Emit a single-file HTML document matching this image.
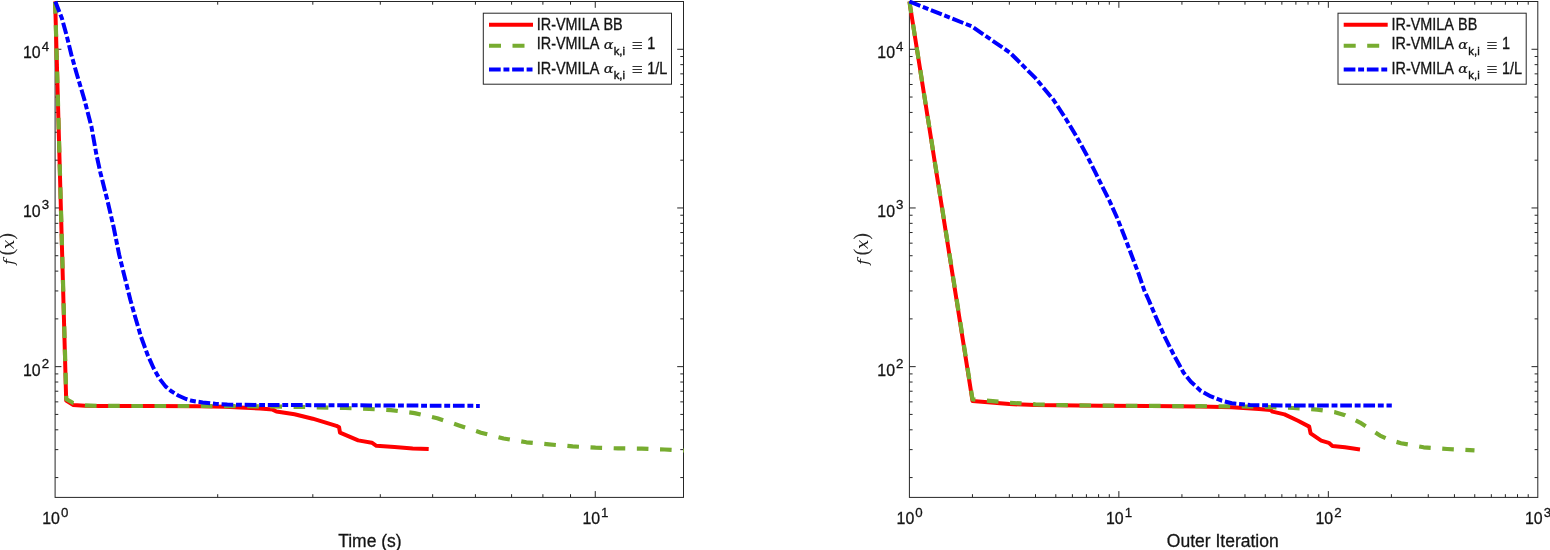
<!DOCTYPE html>
<html lang="en">
<head>
<meta charset="utf-8">
<title>IR-VMILA convergence plots</title>
<style>
html,body{margin:0;padding:0;background:#fff;}
body{width:1550px;height:550px;overflow:hidden;}
svg{display:block;}
text{font-family:"Liberation Sans",sans-serif;fill:#141414;stroke:#141414;stroke-width:0.28px;}
.tk{font-size:15.9px;}
.sup{font-size:13.3px;}
.lb{font-size:17.5px;}
.yl{font-family:"Liberation Serif",serif;font-style:italic;font-size:20px;stroke:none;}
.pr{font-style:normal;font-size:20.4px;fill:#2a2a2a;}
.fx{font-family:"DejaVu Serif",serif;font-size:16.5px;}
.lg{font-size:14.45px;}
.al{font-family:"DejaVu Serif",serif;font-style:italic;font-size:13.1px;stroke-width:0.2px;}
.sub{font-size:11.4px;stroke-width:0.4px;}
.eq{font-family:"Liberation Serif",serif;font-size:20.3px;stroke:none;fill:#333;}
</style>
</head>
<body>
<svg width="1550" height="550" viewBox="0 0 1550 550">
<rect width="1550" height="550" fill="#fff"/>
<clipPath id="cl"><rect x="52.90" y="-0.70" width="631.10" height="498.10"/></clipPath>
<rect x="55.10" y="1.50" width="628.40" height="495.90" fill="#fff" stroke="#262626" stroke-width="1"/>
<path d="M55.10 477.57h3.20M683.50 477.57h-3.20M55.10 449.63h3.20M683.50 449.63h-3.20M55.10 429.80h3.20M683.50 429.80h-3.20M55.10 414.42h3.20M683.50 414.42h-3.20M55.10 401.86h3.20M683.50 401.86h-3.20M55.10 391.23h3.20M683.50 391.23h-3.20M55.10 382.03h3.20M683.50 382.03h-3.20M55.10 373.91h3.20M683.50 373.91h-3.20M55.10 366.65h6.30M683.50 366.65h-6.30M55.10 318.88h3.20M683.50 318.88h-3.20M55.10 290.94h3.20M683.50 290.94h-3.20M55.10 271.11h3.20M683.50 271.11h-3.20M55.10 255.73h3.20M683.50 255.73h-3.20M55.10 243.17h3.20M683.50 243.17h-3.20M55.10 232.54h3.20M683.50 232.54h-3.20M55.10 223.34h3.20M683.50 223.34h-3.20M55.10 215.22h3.20M683.50 215.22h-3.20M55.10 207.96h6.30M683.50 207.96h-6.30M55.10 160.19h3.20M683.50 160.19h-3.20M55.10 132.25h3.20M683.50 132.25h-3.20M55.10 112.42h3.20M683.50 112.42h-3.20M55.10 97.04h3.20M683.50 97.04h-3.20M55.10 84.48h3.20M683.50 84.48h-3.20M55.10 73.85h3.20M683.50 73.85h-3.20M55.10 64.65h3.20M683.50 64.65h-3.20M55.10 56.53h3.20M683.50 56.53h-3.20M55.10 49.27h6.30M683.50 49.27h-6.30M55.10 1.50h3.20M683.50 1.50h-3.20M217.70 497.40v-3.20M217.70 1.50v3.20M312.82 497.40v-3.20M312.82 1.50v3.20M380.30 497.40v-3.20M380.30 1.50v3.20M432.65 497.40v-3.20M432.65 1.50v3.20M475.42 497.40v-3.20M475.42 1.50v3.20M511.58 497.40v-3.20M511.58 1.50v3.20M542.90 497.40v-3.20M542.90 1.50v3.20M570.53 497.40v-3.20M570.53 1.50v3.20M595.25 497.40v-6.30M595.25 1.50v6.30" stroke="#262626" stroke-width="1" fill="none"/>
<text class="tk" text-anchor="end" x="49.10" y="375.65">10<tspan class="sup" dx="1.0" dy="-7.5">2</tspan></text>
<text class="tk" text-anchor="end" x="49.10" y="216.96">10<tspan class="sup" dx="1.0" dy="-7.5">3</tspan></text>
<text class="tk" text-anchor="end" x="49.10" y="58.27">10<tspan class="sup" dx="1.0" dy="-7.5">4</tspan></text>
<text class="tk" text-anchor="middle" x="55.30" y="524.00">10<tspan class="sup" dx="1.0" dy="-7.5">0</tspan></text>
<text class="tk" text-anchor="middle" x="595.45" y="524.00">10<tspan class="sup" dx="1.0" dy="-7.5">1</tspan></text>
<text class="lb" text-anchor="middle" x="369.90" y="546.6">Time (s)</text>
<text class="yl" transform="translate(13.60 266.00) rotate(-90)"><tspan class="fx" style="font-size:15.5px" x="1.2">f</tspan><tspan class="pr" x="10.4" dy="-0.3">(</tspan><tspan class="fx" x="17.0" dy="0.3">x</tspan><tspan class="pr" x="26.3" dy="-0.3">)</tspan></text>
<g clip-path="url(#cl)" fill="none" stroke-width="4.00" stroke-linejoin="round">
<polyline points="55.15,1.50 66.20,400.50 73.00,404.90 85.00,405.70 100.00,405.95 150.00,406.00 200.00,406.20 225.00,406.80 240.00,407.50 260.00,408.50 272.70,409.60 276.40,411.50 294.50,414.20 312.70,418.70 336.40,425.80 339.10,427.30 340.00,432.70 358.20,440.40 371.80,442.70 376.40,445.80 394.50,446.90 412.70,448.40 428.70,449.10" stroke="#ff0000"/>
<polyline points="55.15,1.50 66.30,399.20 73.20,403.00 85.00,405.30 100.00,405.95 150.00,406.00 200.00,406.00 240.00,406.10 300.00,406.90 345.50,408.00 369.00,408.90 391.00,410.20 414.50,413.10 437.30,418.20 459.00,425.50 481.00,432.70 503.60,438.50 526.40,442.30 549.00,444.40 572.70,446.40 595.50,447.70 618.00,448.40 641.80,448.60 664.50,449.50 683.60,450.50 700.00,451.00" stroke="#77ac30" stroke-width="4.2" stroke-dasharray="11.6 11.58" stroke-dashoffset="-0.50"/>
<polyline points="55.30,1.50 61.80,18.00 66.90,36.40 71.30,54.50 76.40,72.70 84.50,100.00 91.50,127.00 96.40,154.50 100.40,172.70 107.30,200.00 113.60,227.00 119.10,254.50 123.60,272.70 130.40,300.00 135.50,318.00 140.90,336.40 147.50,354.50 153.50,368.00 159.00,378.00 165.50,386.40 171.00,391.00 178.20,395.50 186.00,399.00 191.80,400.80 202.70,402.50 215.30,403.80 227.30,404.50 240.00,404.80 300.00,405.10 370.00,405.40 460.00,405.80 479.80,405.90" stroke="#0000ff" stroke-dasharray="11.7 2.77 5.9 2.77" stroke-dashoffset="0.50"/>
</g>
<rect x="483.30" y="13.20" width="188.20" height="71.00" fill="#fff" stroke="#262626" stroke-width="1"/>
<g fill="none" stroke-width="4.00">
<path d="M489.00 24.7H533.00" stroke="#ff0000"/>
<path d="M489.00 45.8H533.00" stroke="#77ac30" stroke-dasharray="12 11.5"/>
<path d="M489.00 69.5H533.00" stroke="#0000ff" stroke-dasharray="11.7 2.77 5.9 2.77"/>
</g>
<text class="lg" transform="translate(536.75 29.70) scale(1 1.0800)" word-spacing="0.9">IR-VMILA BB</text>
<text class="lg" transform="translate(536.75 49.20) scale(1 1.0800)">IR-VMILA</text>
<text class="al" transform="translate(603.65 48.75) scale(1.10 1)">α</text>
<text class="sub" x="613.65" y="54.80">k,i</text>
<text class="eq" x="631.50" y="52.00">≡</text>
<text class="lg" transform="translate(647.20 49.20) scale(1 1.0800)">1</text>
<text class="lg" transform="translate(536.75 73.50) scale(1 1.0800)">IR-VMILA</text>
<text class="al" transform="translate(603.65 73.05) scale(1.10 1)">α</text>
<text class="sub" x="613.65" y="79.10">k,i</text>
<text class="eq" x="631.50" y="76.30">≡</text>
<text class="lg" transform="translate(647.20 73.50) scale(1 1.0800)">1/L</text>
<clipPath id="cr"><rect x="907.20" y="-0.70" width="631.10" height="498.10"/></clipPath>
<rect x="909.40" y="1.50" width="628.40" height="495.90" fill="#fff" stroke="#262626" stroke-width="1"/>
<path d="M909.40 477.57h3.20M1537.80 477.57h-3.20M909.40 449.63h3.20M1537.80 449.63h-3.20M909.40 429.80h3.20M1537.80 429.80h-3.20M909.40 414.42h3.20M1537.80 414.42h-3.20M909.40 401.86h3.20M1537.80 401.86h-3.20M909.40 391.23h3.20M1537.80 391.23h-3.20M909.40 382.03h3.20M1537.80 382.03h-3.20M909.40 373.91h3.20M1537.80 373.91h-3.20M909.40 366.65h6.30M1537.80 366.65h-6.30M909.40 318.88h3.20M1537.80 318.88h-3.20M909.40 290.94h3.20M1537.80 290.94h-3.20M909.40 271.11h3.20M1537.80 271.11h-3.20M909.40 255.73h3.20M1537.80 255.73h-3.20M909.40 243.17h3.20M1537.80 243.17h-3.20M909.40 232.54h3.20M1537.80 232.54h-3.20M909.40 223.34h3.20M1537.80 223.34h-3.20M909.40 215.22h3.20M1537.80 215.22h-3.20M909.40 207.96h6.30M1537.80 207.96h-6.30M909.40 160.19h3.20M1537.80 160.19h-3.20M909.40 132.25h3.20M1537.80 132.25h-3.20M909.40 112.42h3.20M1537.80 112.42h-3.20M909.40 97.04h3.20M1537.80 97.04h-3.20M909.40 84.48h3.20M1537.80 84.48h-3.20M909.40 73.85h3.20M1537.80 73.85h-3.20M909.40 64.65h3.20M1537.80 64.65h-3.20M909.40 56.53h3.20M1537.80 56.53h-3.20M909.40 49.27h6.30M1537.80 49.27h-6.30M909.40 1.50h3.20M1537.80 1.50h-3.20M972.46 497.40v-3.20M972.46 1.50v3.20M1009.34 497.40v-3.20M1009.34 1.50v3.20M1035.51 497.40v-3.20M1035.51 1.50v3.20M1055.81 497.40v-3.20M1055.81 1.50v3.20M1072.40 497.40v-3.20M1072.40 1.50v3.20M1086.42 497.40v-3.20M1086.42 1.50v3.20M1098.57 497.40v-3.20M1098.57 1.50v3.20M1109.29 497.40v-3.20M1109.29 1.50v3.20M1118.87 497.40v-6.30M1118.87 1.50v6.30M1181.93 497.40v-3.20M1181.93 1.50v3.20M1218.81 497.40v-3.20M1218.81 1.50v3.20M1244.98 497.40v-3.20M1244.98 1.50v3.20M1265.28 497.40v-3.20M1265.28 1.50v3.20M1281.87 497.40v-3.20M1281.87 1.50v3.20M1295.89 497.40v-3.20M1295.89 1.50v3.20M1308.04 497.40v-3.20M1308.04 1.50v3.20M1318.76 497.40v-3.20M1318.76 1.50v3.20M1328.34 497.40v-6.30M1328.34 1.50v6.30M1391.40 497.40v-3.20M1391.40 1.50v3.20M1428.28 497.40v-3.20M1428.28 1.50v3.20M1454.45 497.40v-3.20M1454.45 1.50v3.20M1474.75 497.40v-3.20M1474.75 1.50v3.20M1491.34 497.40v-3.20M1491.34 1.50v3.20M1505.36 497.40v-3.20M1505.36 1.50v3.20M1517.51 497.40v-3.20M1517.51 1.50v3.20M1528.23 497.40v-3.20M1528.23 1.50v3.20" stroke="#262626" stroke-width="1" fill="none"/>
<text class="tk" text-anchor="end" x="903.40" y="375.65">10<tspan class="sup" dx="1.0" dy="-7.5">2</tspan></text>
<text class="tk" text-anchor="end" x="903.40" y="216.96">10<tspan class="sup" dx="1.0" dy="-7.5">3</tspan></text>
<text class="tk" text-anchor="end" x="903.40" y="58.27">10<tspan class="sup" dx="1.0" dy="-7.5">4</tspan></text>
<text class="tk" text-anchor="middle" x="909.60" y="524.00">10<tspan class="sup" dx="1.0" dy="-7.5">0</tspan></text>
<text class="tk" text-anchor="middle" x="1119.07" y="524.00">10<tspan class="sup" dx="1.0" dy="-7.5">1</tspan></text>
<text class="tk" text-anchor="middle" x="1328.54" y="524.00">10<tspan class="sup" dx="1.0" dy="-7.5">2</tspan></text>
<text class="tk" text-anchor="middle" x="1538.01" y="524.00">10<tspan class="sup" dx="1.0" dy="-7.5">3</tspan></text>
<text class="lb" text-anchor="middle" x="1222.80" y="546.6">Outer Iteration</text>
<text class="yl" transform="translate(867.90 266.00) rotate(-90)"><tspan class="fx" style="font-size:15.5px" x="1.2">f</tspan><tspan class="pr" x="10.4" dy="-0.3">(</tspan><tspan class="fx" x="17.0" dy="0.3">x</tspan><tspan class="pr" x="26.3" dy="-0.3">)</tspan></text>
<g clip-path="url(#cr)" fill="none" stroke-width="4.00" stroke-linejoin="round">
<polyline points="909.40,1.50 972.50,400.90 1009.30,404.10 1035.50,405.10 1100.00,405.80 1150.00,406.10 1200.00,406.40 1231.80,407.20 1259.00,408.90 1270.50,410.00 1272.50,411.60 1284.50,414.40 1298.00,420.80 1309.20,426.60 1310.60,433.40 1321.20,440.60 1328.80,442.80 1332.40,446.00 1345.00,447.30 1360.00,449.50" stroke="#ff0000"/>
<polyline points="909.40,1.50 972.50,399.30 1009.30,402.70 1035.50,404.30 1055.80,405.00 1072.00,405.30 1100.00,405.60 1150.00,405.90 1200.00,406.20 1260.00,406.60 1293.60,408.00 1317.30,409.60 1335.00,412.20 1345.00,415.20 1360.00,422.60 1380.00,435.60 1390.00,440.00 1401.00,443.20 1423.60,447.30 1447.00,449.00 1474.50,450.40" stroke="#77ac30" stroke-width="4.2" stroke-dasharray="11.6 11.58" stroke-dashoffset="0.00"/>
<polyline points="909.40,1.50 971.80,26.40 1010.00,52.70 1035.50,78.20 1053.60,100.00 1065.50,118.20 1076.40,136.40 1086.40,154.50 1095.50,172.70 1104.50,190.90 1109.10,200.00 1117.30,218.20 1124.50,236.40 1131.30,254.50 1138.20,272.70 1144.50,290.90 1148.70,300.00 1156.40,318.20 1164.50,336.40 1173.60,354.50 1183.60,372.70 1190.90,381.80 1200.90,390.90 1210.90,396.40 1221.80,400.70 1231.80,403.20 1250.00,405.00 1280.00,405.50 1391.80,405.60" stroke="#0000ff" stroke-dasharray="11.7 2.77 5.9 2.77" stroke-dashoffset="0.00"/>
</g>
<rect x="1338.00" y="13.20" width="188.20" height="71.00" fill="#fff" stroke="#262626" stroke-width="1"/>
<g fill="none" stroke-width="4.00">
<path d="M1343.70 24.7H1387.70" stroke="#ff0000"/>
<path d="M1343.70 45.8H1387.70" stroke="#77ac30" stroke-dasharray="12 11.5"/>
<path d="M1343.70 69.5H1387.70" stroke="#0000ff" stroke-dasharray="11.7 2.77 5.9 2.77"/>
</g>
<text class="lg" transform="translate(1391.45 29.70) scale(1 1.0800)" word-spacing="0.9">IR-VMILA BB</text>
<text class="lg" transform="translate(1391.45 49.20) scale(1 1.0800)">IR-VMILA</text>
<text class="al" transform="translate(1458.35 48.75) scale(1.10 1)">α</text>
<text class="sub" x="1468.35" y="54.80">k,i</text>
<text class="eq" x="1486.20" y="52.00">≡</text>
<text class="lg" transform="translate(1501.90 49.20) scale(1 1.0800)">1</text>
<text class="lg" transform="translate(1391.45 73.50) scale(1 1.0800)">IR-VMILA</text>
<text class="al" transform="translate(1458.35 73.05) scale(1.10 1)">α</text>
<text class="sub" x="1468.35" y="79.10">k,i</text>
<text class="eq" x="1486.20" y="76.30">≡</text>
<text class="lg" transform="translate(1501.90 73.50) scale(1 1.0800)">1/L</text>
</svg>
</body>
</html>
